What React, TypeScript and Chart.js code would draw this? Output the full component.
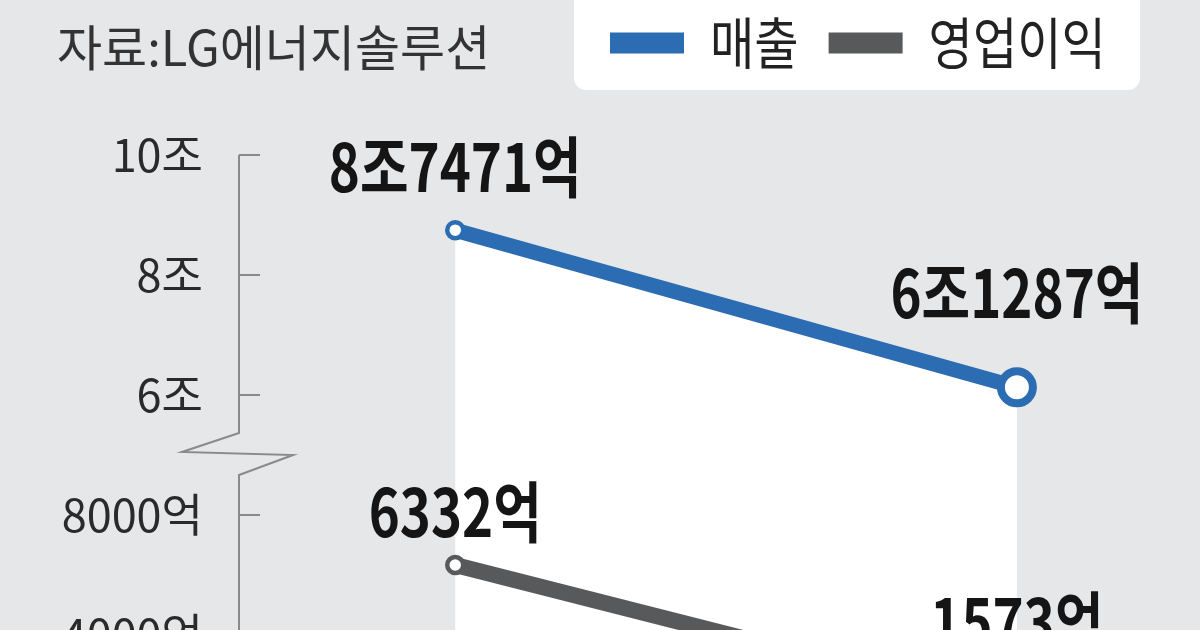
import React, { useEffect, useRef } from 'react';
import { Chart, registerables } from 'chart.js';

Chart.register(...registerables);

// ---- data (units: 억원) ----
const seriesNames = ['매출', '영업이익'];
const periodIndex = [0, 1];
const salesValues = [87471, 61287];
const profitValues = [6332, 1573];
const salesTicks = [100000, 80000, 60000];
const profitTicks = [8000, 4000];
const sourceText = '자료:LG에너지솔루션';

// ---- styles ----
const FONT = "'Noto Sans CJK KR', 'Noto Sans', sans-serif";
const BLUE = '#2b6cb3';
const GRAY = '#58595b';
const BG = '#e6e7e9';
const TEXT = '#2a2a2a';
const CANVAS_W = 1200;
const CANVAS_H = 818;

function fmtEok(v: number): string {
  const jo = Math.floor(v / 10000);
  const eok = v % 10000;
  return jo > 0 ? `${jo}조${eok}억` : `${eok}억`;
}

// white area under the sales line, down to the bottom of the whole plot
const underAreaPlugin = {
  id: 'underArea',
  beforeDatasetsDraw(chart: any, _args: any, o: any) {
    const pts = chart.getDatasetMeta(o.datasetIndex).data;
    if (!pts.length) return;
    const ctx = chart.ctx;
    const bottom = chart.chartArea.bottom;
    ctx.save();
    ctx.fillStyle = o.color;
    ctx.beginPath();
    ctx.moveTo(pts[0].x, bottom);
    pts.forEach((p: any) => ctx.lineTo(p.x, p.y));
    ctx.lineTo(pts[pts.length - 1].x, bottom);
    ctx.closePath();
    ctx.fill();
    ctx.restore();
  },
};

const brokenAxisPlugin = {
  id: 'brokenAxis',
  afterDraw(chart: any, _args: any, o: any) {
    const up = chart.scales.ySales;
    const lo = chart.scales.yProfit;
    const ctx = chart.ctx;
    const x0 = up.right;
    const breakY = up.bottom;
    ctx.save();
    ctx.strokeStyle = o.color;
    ctx.lineWidth = o.width;
    ctx.lineJoin = 'miter';
    ctx.beginPath();
    ctx.moveTo(x0, up.getPixelForValue(salesTicks[0]));
    ctx.lineTo(x0, breakY - 22);
    ctx.lineTo(x0 - 57, breakY - 3);
    ctx.lineTo(x0 + 54, breakY);
    ctx.lineTo(x0, breakY + 20);
    ctx.lineTo(x0, lo.bottom);
    ctx.stroke();
    ctx.beginPath();
    for (const s of [up, lo]) {
      for (const t of s.ticks) {
        const y = s.getPixelForValue(t.value);
        ctx.moveTo(x0, y);
        ctx.lineTo(x0 + o.tickLength, y);
      }
    }
    ctx.stroke();
    ctx.restore();
  },
};

const valueLabelPlugin = {
  id: 'valueLabels',
  afterDatasetsDraw(chart: any, _args: any, o: any) {
    const ctx = chart.ctx;
    chart.data.datasets.forEach((ds: any, di: number) => {
      const meta = chart.getDatasetMeta(di);
      meta.data.forEach((pt: any, i: number) => {
        const text = fmtEok(ds.data[i].y);
        ctx.save();
        ctx.font = `bold ${o.size}px ${FONT}`;
        ctx.fillStyle = o.color;
        ctx.textAlign = 'center';
        ctx.textBaseline = 'alphabetic';
        ctx.translate(pt.x, pt.y - o.offsets[di][i]);
        ctx.scale(o.scaleX, 1);
        ctx.fillText(text, 0, 0);
        ctx.restore();
      });
    });
  },
};

const boxLegendPlugin = {
  id: 'boxLegend',
  afterDraw(chart: any, _args: any, o: any) {
    const ctx = chart.ctx;
    ctx.save();
    ctx.fillStyle = '#ffffff';
    ctx.beginPath();
    ctx.roundRect(o.x, o.y, o.w, o.h, o.r);
    ctx.fill();
    ctx.font = `${o.size}px ${FONT}`;
    ctx.textBaseline = 'middle';
    ctx.textAlign = 'left';
    let x = o.itemsX;
    chart.data.datasets.forEach((ds: any) => {
      ctx.fillStyle = ds.borderColor;
      ctx.fillRect(x, o.cy - o.swH / 2, o.swW, o.swH);
      x += o.swW + o.textGap;
      const w = ctx.measureText(ds.label).width * o.scaleX;
      ctx.save();
      ctx.translate(x, o.cy + o.textDy);
      ctx.scale(o.scaleX, 1);
      ctx.fillStyle = o.color;
      ctx.fillText(ds.label, 0, 0);
      ctx.restore();
      x += w + o.itemGap;
    });
    ctx.restore();
  },
};

export default function App() {
  const ref = useRef<HTMLCanvasElement>(null);

  useEffect(() => {
    if (!ref.current) return;
    const chart = new Chart(ref.current, {
      type: 'line',
      data: {
        datasets: [
          {
            label: seriesNames[0],
            data: periodIndex.map((x, i) => ({ x, y: salesValues[i] })),
            yAxisID: 'ySales',
            borderColor: BLUE,
            borderWidth: 15,
            backgroundColor: '#ffffff',
            fill: false,
            pointRadius: [8, 16],
            pointBorderWidth: [4.5, 8],
            pointBackgroundColor: '#ffffff',
            pointBorderColor: BLUE,
            tension: 0,
          },
          {
            label: seriesNames[1],
            data: periodIndex.map((x, i) => ({ x, y: profitValues[i] })),
            yAxisID: 'yProfit',
            borderColor: GRAY,
            borderWidth: 16,
            backgroundColor: GRAY,
            fill: false,
            pointRadius: [8, 16],
            pointBorderWidth: [4.5, 8],
            pointBackgroundColor: '#ffffff',
            pointBorderColor: GRAY,
            tension: 0,
          },
        ],
      },
      options: {
        animation: false,
        responsive: false,
        events: [],
        layout: { autoPadding: false, padding: { left: 57, top: 0, right: 0, bottom: 0 } },
        scales: {
          x: { type: 'linear', display: false, min: -0.385, max: 1.326 },
          ySales: {
            type: 'linear',
            position: 'left',
            stack: 'broken',
            stackWeight: 1,
            weight: 1,
            min: 50000,
            max: 100000,
            grid: { display: false, drawTicks: false },
            border: { display: false },
            afterBuildTicks: (s: any) => {
              s.ticks = salesTicks.map((value) => ({ value }));
            },
            afterFit: (s: any) => {
              s.width = 182;
            },
            ticks: {
              padding: 36,
              color: TEXT,
              font: { family: FONT, size: 45 },
              callback: (v: any) => `${Number(v) / 10000}조`,
            },
          },
          yProfit: {
            type: 'linear',
            position: 'left',
            stack: 'broken',
            stackWeight: 1,
            weight: 0,
            min: 0,
            max: 10000,
            grid: { display: false, drawTicks: false },
            border: { display: false },
            afterBuildTicks: (s: any) => {
              s.ticks = profitTicks.map((value) => ({ value }));
            },
            afterFit: (s: any) => {
              s.width = 182;
            },
            ticks: {
              padding: 36,
              color: TEXT,
              font: { family: FONT, size: 45 },
              callback: (v: any) => `${v}억`,
            },
          },
        },
        plugins: {
          legend: { display: false },
          tooltip: { enabled: false },
          title: {
            display: true,
            text: sourceText,
            align: 'start',
            color: '#333333',
            font: { family: FONT, size: 49, weight: 'normal', lineHeight: 1.2 },
            padding: { top: 18, bottom: 78.2 },
          },
          underArea: { datasetIndex: 0, color: '#ffffff' },
          brokenAxis: { color: '#8a8a8a', width: 2, tickLength: 21 },
          valueLabels: {
            size: 66,
            scaleX: 0.8,
            color: '#151515',
            offsets: [
              [38, 69],
              [28, 61],
            ],
          },
          boxLegend: {
            x: 574,
            y: -20,
            w: 566,
            h: 110,
            r: 12,
            itemsX: 610,
            cy: 43,
            textDy: 0,
            swW: 74,
            swH: 21,
            textGap: 26,
            itemGap: 30,
            size: 56,
            scaleX: 0.86,
            color: '#222222',
          },
        } as any,
      },
      plugins: [underAreaPlugin, brokenAxisPlugin, valueLabelPlugin, boxLegendPlugin],
    } as any);
    return () => chart.destroy();
  }, []);

  return (
    <div
      style={{
        position: 'absolute',
        left: 0,
        top: 0,
        width: CANVAS_W,
        height: CANVAS_H,
        background: BG,
        overflow: 'hidden',
      }}
    >
      <canvas
        ref={ref}
        width={CANVAS_W}
        height={CANVAS_H}
        style={{ display: 'block', width: CANVAS_W, height: CANVAS_H }}
      />
    </div>
  );
}
